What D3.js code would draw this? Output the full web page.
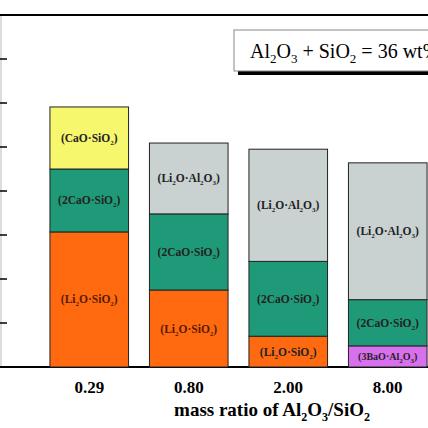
<!DOCTYPE html>
<html><head><meta charset="utf-8">
<script src="https://cdn.jsdelivr.net/npm/d3@7"></script>
<style>body{margin:0;background:#fff}text{font-family:"Liberation Serif","DejaVu Serif",serif}</style>
</head><body><div id="chart"></div>
<script>
// kategori dan nilai tiap fase
const categories = ["0.29", "0.80", "2.00", "8.00"];
const phases = ["LiSi", "BaAl", "CaSi2", "LiAl", "CaSi"];
const LiSi  = [3.07, 1.75, 0.70, 0];
const BaAl  = [0, 0, 0, 0.48];
const CaSi2 = [1.43, 1.73, 1.70, 1.05];
const LiAl  = [0, 1.61, 2.55, 3.11];
const CaSi  = [1.41, 0, 0, 0];
const yTicks = [0, 1, 2, 3, 4, 5, 6, 7, 8];

const colors = { LiSi: "#ff6a10", BaAl: "#d870ee", CaSi2: "#1f9a78", LiAl: "#c9d1d1", CaSi: "#f6f76c" };
// label: pasangan [teks, subskrip?]
const labels = {
  LiSi: [["(Li", 0], ["2", 1], ["O·SiO", 0], ["2", 1], [")", 0]],
  BaAl: [["(3BaO·Al", 0], ["2", 1], ["O", 0], ["3", 1], [")", 0]],
  CaSi2: [["(2CaO·SiO", 0], ["2", 1], [")", 0]],
  LiAl: [["(Li", 0], ["2", 1], ["O·Al", 0], ["2", 1], ["O", 0], ["3", 1], [")", 0]],
  CaSi: [["(CaO·SiO", 0], ["2", 1], [")", 0]]
};

// teks dengan subskrip, tanpa tspan kosong
function richText(t, parts, subSize, shift) {
  let cur = 0;
  parts.forEach(([txt, sub]) => {
    const target = sub ? shift : 0;
    t.append("tspan").text(txt).attr("font-size", sub ? subSize : null).attr("dy", target - cur);
    cur = target;
  });
}

const data = categories.map((c, i) => ({
  cat: c, LiSi: LiSi[i], BaAl: BaAl[i], CaSi2: CaSi2[i], LiAl: LiAl[i], CaSi: CaSi[i]
}));

const svg = d3.select("#chart").append("svg").attr("width", 428).attr("height", 428);

const x = d3.scaleBand().domain(categories).range([40, 437]).paddingInner(0.21).paddingOuter(0.1);
const y = d3.scaleLinear().domain([0, 8]).range([367, 15]);

// bingkai sumbu
svg.append("rect").attr("x", 0).attr("y", 15).attr("width", 2).attr("height", 352).attr("fill", "#ddd");
svg.append("line").attr("x1", 0).attr("x2", 428).attr("y1", 15).attr("y2", 15).attr("stroke", "#000").attr("stroke-width", 2);
svg.append("line").attr("x1", 0).attr("x2", 428).attr("y1", 367).attr("y2", 367).attr("stroke", "#000").attr("stroke-width", 2);
svg.append("g").selectAll("line").data(yTicks.slice(1, -1)).enter().append("line")
  .attr("x1", 0).attr("x2", 7).attr("y1", d => y(d)).attr("y2", d => y(d))
  .attr("stroke", "#000").attr("stroke-width", 1.5);

const series = d3.stack().keys(phases)(data);

series.forEach(s => {
  const g = svg.append("g");
  s.forEach((d, i) => {
    if (d[1] - d[0] <= 0) return;
    const cx = x(categories[i]) + x.bandwidth() / 2;
    g.append("rect")
      .attr("x", x(categories[i])).attr("width", x.bandwidth())
      .attr("y", y(d[1])).attr("height", y(d[0]) - y(d[1]))
      .attr("fill", colors[s.key]).attr("stroke", "#222").attr("stroke-width", 1);
    const t = g.append("text").attr("x", cx).attr("y", (y(d[0]) + y(d[1])) / 2 + 4)
      .attr("text-anchor", "middle").attr("font-size", s.key === "BaAl" ? 10 : 11.5)
      .attr("font-weight", "bold").attr("fill", s.key === "LiSi" && i < 2 ? "#5a1a00" : "#222");
    richText(t, labels[s.key], 7, 3);
  });
});

// label kategori
svg.append("g").selectAll("text").data(categories).enter().append("text")
  .attr("x", d => x(d) + x.bandwidth() / 2).attr("y", 393)
  .attr("text-anchor", "middle").attr("font-size", 17).attr("font-weight", "bold").text(d => d);

// judul sumbu x
const xt = svg.append("text").attr("x", 272).attr("y", 416).attr("text-anchor", "middle")
  .attr("font-size", 19).attr("font-weight", "bold");
richText(xt, [["mass ratio of Al", 0], ["2", 1], ["O", 0], ["3", 1], ["/SiO", 0], ["2", 1]], 12, 5);

// kotak keterangan
svg.append("rect").attr("x", 238).attr("y", 35).attr("width", 200).attr("height", 40).attr("fill", "#000");
svg.append("rect").attr("x", 234).attr("y", 30).attr("width", 200).attr("height", 41)
  .attr("fill", "#fff").attr("stroke", "#888").attr("stroke-width", 1);
const lt = svg.append("text").attr("x", 250).attr("y", 58).attr("font-size", 20);
richText(lt, [["Al", 0], ["2", 1], ["O", 0], ["3", 1], [" + SiO", 0], ["2", 1], [" = 36 wt%", 0]], 13, 5);
</script></body></html>
